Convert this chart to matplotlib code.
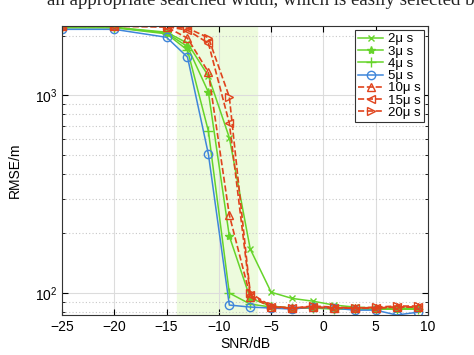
import numpy as np
import matplotlib
matplotlib.use('Agg')
import matplotlib.pyplot as plt
from matplotlib.ticker import LogLocator, NullFormatter, FixedLocator

plt.rcParams['font.family'] = ['Liberation Sans', 'DejaVu Sans']

snr = [-25, -20, -15, -13, -11, -9, -7, -5, -3, -1, 1, 3, 5, 7, 9]

rmse_2us = [2200, 2200, 2080, 1830, 1250, 610, 167, 101, 94, 91, 87, 85, 84, 84, 84]
rmse_3us = [2200, 2200, 2060, 1760, 1035, 194, 94, 86, 84, 84, 84, 83, 83, 83, 83]
rmse_4us = [2190, 2190, 2040, 1690, 658, 100, 88, 85, 84, 84, 83, 83, 83, 83, 83]
rmse_5us = [2150, 2150, 1960, 1556, 503, 87, 85, 84, 83, 85, 84, 82, 82, 77.5, 80]
rmse_10us = [2230, 2230, 2210, 1940, 1306, 248, 96, 85, 84, 85, 84, 84, 84, 85, 85]
rmse_15us = [2230, 2230, 2220, 2130, 1830, 722, 98, 85, 84, 85, 84, 84, 84, 85, 85]
rmse_20us = [2230, 2230, 2230, 2180, 1950, 980, 100, 86, 84, 86, 85, 84, 85, 86, 86]

labels = ['2\u03bc s', '3\u03bc s', '4\u03bc s', '5\u03bc s',
          '10\u03bc s', '15\u03bc s', '20\u03bc s']

green = '#66D42A'
blue = '#3F86DA'
red = '#E0431C'

fig = plt.figure(figsize=(4.74, 3.55), dpi=100)
# caption line of the page, cut by the crop
fig.text(47 / 474, 1 - 5 / 355, 'an appropriate searched width, which is easily selected b',
         family=['Liberation Serif', 'DejaVu Serif'], fontsize=13.6,
         va='baseline', ha='left', color='#222222')
ax = fig.add_axes([62 / 474, 1 - 315 / 355, (428 - 62) / 474, (315 - 26) / 355])

ax.axvspan(-14, -6.4, color='#EDFBDD', zorder=0)

ax.plot(snr, rmse_2us, '-x', color=green, lw=1.1, ms=5, label=labels[0])
ax.plot(snr, rmse_3us, '-*', color=green, lw=1.1, ms=6, label=labels[1])
ax.plot(snr, rmse_4us, '-+', color=green, lw=1.1, ms=7, label=labels[2])
ax.plot(snr, rmse_5us, '-o', color=blue, lw=1.1, ms=6, mfc='none', label=labels[3])
ax.plot(snr, rmse_10us, '--^', color=red, lw=1.2, ms=6, mfc='none', label=labels[4])
ax.plot(snr, rmse_15us, '--<', color=red, lw=1.2, ms=6, mfc='none', label=labels[5])
ax.plot(snr, rmse_20us, '-->', color=red, lw=1.2, ms=6, mfc='none', label=labels[6])

ax.set_yscale('log')
ax.set_xlim(-25, 10)
ax.set_ylim(77.5, 2235)
ax.set_xticks(np.arange(-25, 11, 5))
ax.yaxis.set_major_locator(FixedLocator([100, 1000]))
ax.yaxis.set_minor_locator(LogLocator(base=10, subs=np.arange(2, 10)))
ax.yaxis.set_minor_formatter(NullFormatter())

ax.grid(True, which='major', color='#DCDCDC', lw=0.8, ls='-')
ax.grid(True, which='minor', axis='y', color='#C8C8C8', lw=0.8, ls=(0, (1, 2)))
ax.set_axisbelow(True)

ax.tick_params(which='both', direction='in', top=True, right=True, labelsize=10)
ax.tick_params(which='major', length=4)
ax.tick_params(which='minor', length=2)
for s in ax.spines.values():
    s.set_color('#333333')
    s.set_linewidth(0.8)

ax.set_xlabel('SNR/dB', fontsize=10, labelpad=2)
ax.set_ylabel('RMSE/m', fontsize=10, labelpad=9)

leg = ax.legend(loc='upper right', fontsize=9.5, fancybox=False, framealpha=1,
                edgecolor='#333333', handlelength=1.9, labelspacing=0.0,
                borderaxespad=0.3, handletextpad=0.35, borderpad=0.25)
leg.get_frame().set_linewidth(0.8)

fig.savefig('out.png', dpi=100)
